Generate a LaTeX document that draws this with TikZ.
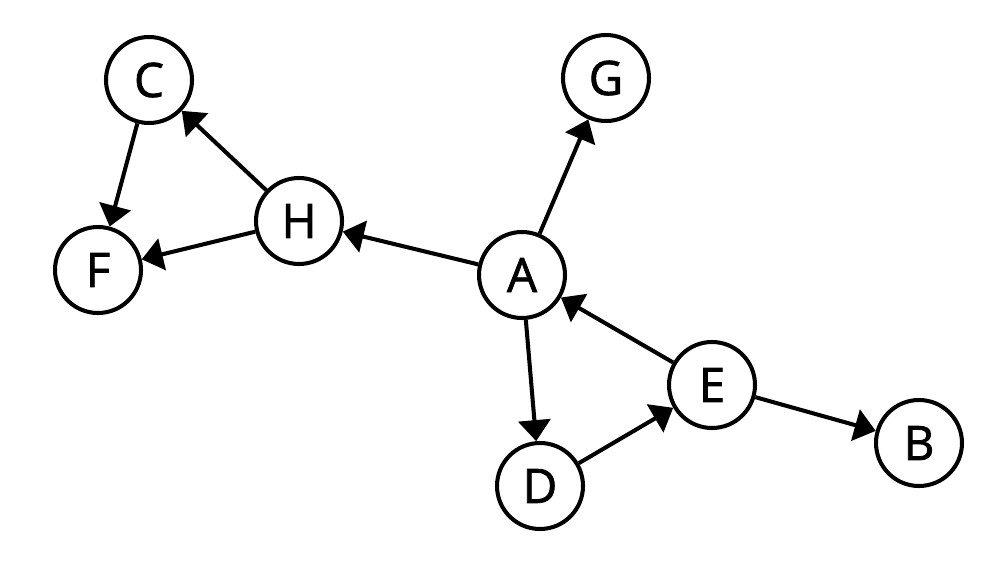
\documentclass[tikz,border=0pt]{standalone}
\usepackage{fontspec}
\setmainfont{Open Sans}[FakeBold=1.6]
\usetikzlibrary{arrows.meta}
\begin{document}
\begin{tikzpicture}[
  vertex/.style={draw, circle, line width=2.3pt, minimum size=1.72cm, inner sep=0pt, font=\fontsize{27}{32}\selectfont},
  edge/.style={draw, line width=2.3pt, -{Triangle[length=0.42cm, width=0.64cm]}}]
\useasboundingbox (0,0) rectangle (19.86,11.68);
\node[vertex] (C) at (2.98,10.08) {C};
\node[vertex] (G) at (12.12,10.12) {G};
\node[vertex] (H) at (5.98,7.26) {H};
\node[vertex] (F) at (1.96,6.28) {F};
\node[vertex] (A) at (10.44,6.18) {A};
\node[vertex] (E) at (14.24,3.98) {E};
\node[vertex] (B) at (18.38,2.82) {B};
\node[vertex] (D) at (10.80,1.96) {D};
\path[edge] (A) -- (H);
\path[edge] (A) -- (G);
\path[edge] (A) -- (D);
\path[edge] (E) -- (A);
\path[edge] (D) -- (E);
\path[edge] (E) -- (B);
\path[edge] (H) -- (C);
\path[edge] (H) -- (F);
\path[edge] (C) -- (F);
\end{tikzpicture}
\end{document}
